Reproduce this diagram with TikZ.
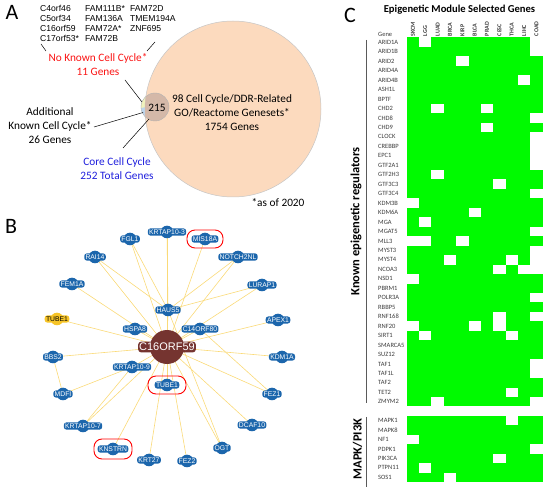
\documentclass[tikz,border=0pt]{standalone}
\usepackage{fontspec}
\setmainfont{Carlito}
\newfontfamily\arialf{Liberation Sans}
\usetikzlibrary{backgrounds}
\definecolor{peach}{RGB}{252,218,190}
\definecolor{tanc}{RGB}{212,184,168}
\definecolor{coreblue}{RGB}{190,214,236}
\definecolor{nkyel}{RGB}{240,242,188}
\definecolor{nblue}{RGB}{28,102,172}
\definecolor{hubbrown}{RGB}{117,52,48}
\definecolor{edgec}{RGB}{250,218,120}
\definecolor{tubeyc}{RGB}{246,196,40}
\definecolor{hmgreen}{RGB}{0,250,0}
\definecolor{redA}{RGB}{250,20,20}
\definecolor{blueA}{RGB}{30,30,220}
\definecolor{labc}{RGB}{60,60,60}
\definecolor{linec}{RGB}{90,90,90}
\tikzset{
 txtA/.style={font=\fontsize{11.3}{14}\selectfont, inner sep=0pt, align=center},
 glist/.style={font=\arialf\fontsize{8.6}{9}\selectfont, anchor=west, inner sep=0pt},
 gn/.style={fill=nblue, rounded corners=2.5pt, inner xsep=1.3pt, inner ysep=1.2pt, text=white, font=\arialf\fontsize{6.8}{7}\selectfont},
 gny/.style={gn, fill=tubeyc, text=black},
 hubn/.style={fill=hubbrown, rounded corners=3pt, inner xsep=1pt, inner ysep=1.5pt, text=white, font=\arialf\fontsize{11}{12}\selectfont},
 edge/.style={draw=edgec, line width=0.6pt},
 redbox/.style={draw=red, line width=0.9pt, rounded corners=8pt},
 rowlab/.style={font=\fontsize{6.5}{7}\selectfont, text=labc, anchor=west, inner sep=0pt},
 collab/.style={font=\bfseries\fontsize{6}{7}\selectfont, text=labc, rotate=90, anchor=west, inner sep=0pt},
 panel/.style={font=\fontsize{22}{23}\selectfont, inner sep=0pt},
 grouplab/.style={font=\bfseries\fontsize{12.5}{13}\selectfont, rotate=90, inner sep=0pt},
 conn/.style={draw=black, line width=0.5pt},
}
\newcommand{\gnode}[4]{\fill[nblue] (#2,#3) circle (6.3pt); \node[gn] (#1) at (#2,#3) {#4};}
\begin{document}
\begin{tikzpicture}[x=1pt,y=-1pt]
\useasboundingbox (0,0) rectangle (550,489);
% ---------------- Panel A ----------------
\node[panel] (pA) at (12,12) {A};
\node[glist] (g1) at (40,8.3) {C4orf46};
\node[glist] (g2) at (40,18.3) {C5orf34};
\node[glist] (g3) at (40,28.3) {C16orf59};
\node[glist] (g4) at (40,38.3) {C17orf53*};
\node[glist] (g5) at (85,8.3) {FAM111B*};
\node[glist] (g6) at (85,18.3) {FAM136A};
\node[glist] (g7) at (85,28.3) {FAM72A*};
\node[glist] (g8) at (85,38.3) {FAM72B};
\node[glist] (g9) at (130,8.3) {FAM72D};
\node[glist] (g10) at (130,18.3) {TMEM194A};
\node[glist] (g11) at (130,28.3) {ZNF695};
% circles
\fill[coreblue] (155,107) circle (14pt);
\begin{scope}
 \clip (155,107) circle (14pt);
 \fill[nkyel] (141,99) circle (9pt);
\end{scope}
\filldraw[fill=peach, draw=gray!45, line width=0.5pt] (233,109) circle (88pt);
\begin{scope}
 \clip (233,109) circle (88pt);
 \fill[tanc] (155,107) circle (14pt);
\end{scope}
\draw[gray!60, line width=0.4pt] (155,107) circle (14pt);
\node[txtA] (n215) at (157,108) {215};
\node[txtA] (venn) at (232,113) {98 Cell Cycle/DDR-Related\\GO/Reactome Genesets*\\1754 Genes};
\node[txtA] (asof) at (278,203) {*as of 2020};
\node[txtA, text=redA] (nokn) at (98,65) {No Known Cell Cycle*\\11 Genes};
\node[txtA] (addk) at (50,126) {Additional\\Known Cell Cycle*\\26 Genes};
\node[txtA, text=blueA] (core) at (117,169) {Core Cell Cycle\\252 Total Genes};
\coordinate (a1) at (41,44); \coordinate (a2) at (46,51);
\coordinate (b1) at (155,42); \coordinate (b2) at (147,51);
\coordinate (c1) at (125,80); \coordinate (c2) at (142,102);
\coordinate (d1) at (94,127); \coordinate (d2) at (143,112.5);
\coordinate (e1) at (123,148); \coordinate (e2) at (149,119);
\draw[conn] (a1) -- (a2);
\draw[conn] (b1) -- (b2);
\draw[conn] (c1) -- (c2);
\draw[conn] (d1) -- (d2);
\draw[conn] (e1) -- (e2);
% ---------------- Panel B ----------------
\node[panel] (pB) at (11,226) {B};
\gnode{fgl}{130}{239}{FGL1}
\gnode{k103}{167}{232}{KRTAP10-3}
\gnode{mis}{205}{239}{MIS18A}
\gnode{rai}{95}{257}{RAI14}
\gnode{notch}{238}{257}{NOTCH2NL}
\gnode{fem}{72}{284}{FEM1A}
\gnode{lur}{262}{285}{LURAP1}
\gnode{haus}{168}{310}{HAUS5}
\gnode{apex}{278}{320}{APEX1}
\fill[tubeyc] (57,319) circle (6.3pt); \node[gny] (tubey) at (57,319) {TUBE1};
\gnode{hspa}{135}{329}{HSPA8}
\gnode{c14}{200}{329}{C14ORF80}
\fill[hubbrown] (167,347) circle (17pt); \node[hubn] (hub) at (167,347) {C16ORF59};
\gnode{bbs}{53}{357}{BBS2}
\gnode{k109}{132}{367}{KRTAP10-9}
\gnode{kdm}{282}{357}{KDM1A}
\gnode{tuber}{167}{385}{TUBE1}
\gnode{mdfi}{63}{394}{MDFI}
\gnode{fez1}{272}{394}{FEZ1}
\gnode{k107}{83}{426}{KRTAP10-7}
\gnode{dcaf}{252}{425}{DCAF10}
\gnode{kns}{113}{449}{KNSTRN}
\gnode{ogt}{222}{448}{OGT}
\gnode{krt}{149}{460}{KRT27}
\gnode{fez2}{187}{461}{FEZ2}
\node[redbox, minimum width=36pt, minimum height=18pt] (rmis) at (mis.center) {};
\node[redbox, minimum width=38pt, minimum height=18pt] (rtube) at (tuber.center) {};
\node[redbox, minimum width=38pt, minimum height=20pt] (rkns) at (kns.center) {};
\begin{scope}[on background layer]
 \foreach \a in {fgl,k103,mis,rai,notch,fem,lur,haus,apex,tubey,hspa,c14,bbs,k109,kdm,tuber,fez1,k107,dcaf,kns,ogt,krt,fez2}
  \draw[edge] (\a.center) -- (hub.center);
 \foreach \a/\b in {fgl/haus,rai/haus,notch/haus,lur/haus,k103/haus,fez1/c14,ogt/haus,k107/k109,bbs/mdfi,mdfi/k109}
  \draw[edge] (\a.center) -- (\b.center);
\end{scope}
% ---------------- Panel C ----------------
\node[panel] (pC) at (350,15) {C};
\node[font=\bfseries\fontsize{10.6}{11}\selectfont, inner sep=0pt] (title) at (459.5,10) {Epigenetic Module Selected Genes};
\node[rowlab] (gene) at (378,34) {Gene};
\foreach \n [count=\j from 0] in {SKCM,LGG,LUAD,BRCA,KIRP,BLCA,PRAD,CESC,THCA,LIHC,COAD}
 \node[collab] (col\j) at ({406.7+12.36*(\j+0.5)},36.3) {\n};
% group 1
\fill[hmgreen] (406.7,37.5) rectangle (542.7,406.5);
\foreach \r/\c in {0/1,0/10,1/10,2/4,4/9,7/2,7/6,8/10,9/6,10/10,11/10,12/10,13/10,14/2,15/7,16/10,17/0,18/5,19/1,20/10,21/0,21/1,21/4,22/10,23/3,23/8,23/10,24/7,24/9,24/10,25/0,27/10,29/7,29/10,30/0,30/5,30/7,31/1,31/8,34/10,35/10,37/8,38/2,38/10}
 \fill[white] ({406.7+12.36*\c},{37.5+9.462*\r}) rectangle ++(12.36,9.462);
\foreach \n [count=\i from 0] in {ARID1A,ARID1B,ARID2,ARID4A,ARID4B,ASH1L,BPTF,CHD2,CHD8,CHD9,CLOCK,CREBBP,EPC1,GTF2A1,GTF2H3,GTF3C3,GTF3C4,KDM3B,KDM6A,MGA,MGAT5,MLL3,MYST3,MYST4,NCOA3,NSD1,PBRM1,POLR3A,RBBP5,RNF168,RNF20,SIRT1,SMARCA5,SUZ12,TAF1,TAF1L,TAF2,TET2,ZMYM2}
 \node[rowlab] (ra\i) at (378,{37.5+9.462*(\i+0.5)}) {\n};
% group 2
\fill[hmgreen] (406.7,416) rectangle (542.7,482);
\foreach \r/\c in {0/8,2/0,3/10,4/7,5/1,6/3}
 \fill[white] ({406.7+12.36*\c},{416+9.43*\r}) rectangle ++(12.36,9.43);
\foreach \n [count=\i from 0] in {MAPK1,MAPK8,NF1,PDPK1,PIK3CA,PTPN11,SOS1}
 \node[rowlab] (rb\i) at (378,{416+9.43*(\i+0.5)}) {\n};
% group labels
\coordinate (l1t) at (366,40); \coordinate (l1b) at (366,403);
\coordinate (l2t) at (366,417); \coordinate (l2b) at (366,487);
\draw[linec, line width=0.8pt] (l1t) -- (l1b);
\draw[linec, line width=0.8pt] (l2t) -- (l2b);
\node[grouplab] (gl1) at (356,221.5) {Known epigenetic regulators};
\node[grouplab] (gl2) at (357.5,449) {MAPK/PI3K};
\end{tikzpicture}
\end{document}
